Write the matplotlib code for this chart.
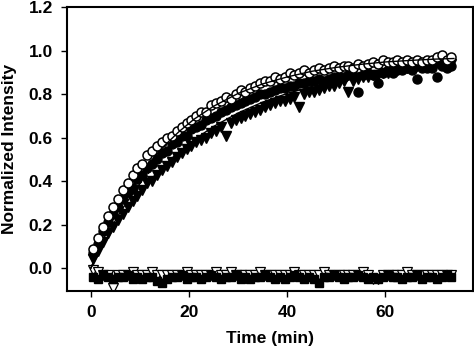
import matplotlib
matplotlib.use('Agg')
import matplotlib.pyplot as plt

plt.rcParams['font.family'] = ['Liberation Sans', 'DejaVu Sans']
plt.rcParams['font.weight'] = 'bold'

# sampling times (min), shared by all series
t = [0.5, 1.5, 2.5, 3.5, 4.5, 5.5, 6.5, 7.5, 8.5, 9.5,
     10.5, 11.5, 12.5, 13.5, 14.5, 15.5, 16.5, 17.5, 18.5, 19.5,
     20.5, 21.5, 22.5, 23.5, 24.5, 25.5, 26.5, 27.5, 28.5, 29.5,
     30.5, 31.5, 32.5, 33.5, 34.5, 35.5, 36.5, 37.5, 38.5, 39.5,
     40.5, 41.5, 42.5, 43.5, 44.5, 45.5, 46.5, 47.5, 48.5, 49.5,
     50.5, 51.5, 52.5, 53.5, 54.5, 55.5, 56.5, 57.5, 58.5, 59.5,
     60.5, 61.5, 62.5, 63.5, 64.5, 65.5, 66.5, 67.5, 68.5, 69.5,
     70.5, 71.5, 72.5, 73.5]

open_circ = [0.09, 0.14, 0.19, 0.24, 0.28, 0.32, 0.36, 0.39, 0.43, 0.46,
             0.48, 0.52, 0.54, 0.56, 0.58, 0.60, 0.61, 0.63, 0.65, 0.67,
             0.68, 0.70, 0.72, 0.72, 0.75, 0.76, 0.77, 0.79, 0.78, 0.80,
             0.82, 0.81, 0.83, 0.84, 0.85, 0.86, 0.86, 0.88, 0.87, 0.88,
             0.90, 0.89, 0.90, 0.91, 0.90, 0.91, 0.92, 0.91, 0.92, 0.93,
             0.92, 0.93, 0.93, 0.92, 0.94, 0.93, 0.94, 0.95, 0.94, 0.96,
             0.95, 0.95, 0.96, 0.95, 0.96, 0.95, 0.96, 0.95, 0.96, 0.96,
             0.97, 0.98, 0.96, 0.97]

filled_circ = [0.07, 0.11, 0.17, 0.21, 0.25, 0.28, 0.32, 0.35, 0.37, 0.41,
               0.43, 0.46, 0.48, 0.50, 0.53, 0.54, 0.57, 0.58, 0.61, 0.61,
               0.64, 0.65, 0.66, 0.68, 0.69, 0.70, 0.72, 0.73, 0.74, 0.75,
               0.76, 0.77, 0.78, 0.79, 0.80, 0.80, 0.81, 0.82, 0.83, 0.83,
               0.84, 0.84, 0.85, 0.85, 0.86, 0.86, 0.87, 0.86, 0.87, 0.88,
               0.88, 0.88, 0.89, 0.89, 0.81, 0.89, 0.90, 0.89, 0.85, 0.90,
               0.91, 0.90, 0.91, 0.91, 0.92, 0.91, 0.87, 0.92, 0.92, 0.92,
               0.88, 0.93, 0.92, 0.93]

filled_tri = [0.04, 0.08, 0.12, 0.16, 0.19, 0.22, 0.25, 0.28, 0.31, 0.33,
              0.36, 0.39, 0.40, 0.43, 0.45, 0.47, 0.49, 0.51, 0.53, 0.55,
              0.56, 0.58, 0.59, 0.60, 0.62, 0.63, 0.65, 0.61, 0.67, 0.68,
              0.69, 0.70, 0.71, 0.72, 0.73, 0.74, 0.75, 0.76, 0.77, 0.77,
              0.78, 0.79, 0.74, 0.80, 0.81, 0.81, 0.82, 0.83, 0.84, 0.84,
              0.85, 0.86, 0.81, 0.86, 0.87, 0.88, 0.88, 0.89, 0.89, 0.90,
              0.90, 0.91, 0.91, 0.92, 0.92, 0.93, 0.93, 0.93, 0.94, 0.94,
              0.95, 0.96, 0.95, 0.94]

base_sq = [-0.04, -0.05, -0.03, -0.04, -0.05, -0.04, -0.04, -0.03, -0.05, -0.04,
           -0.05, -0.04, -0.04, -0.06, -0.07, -0.05, -0.04, -0.04, -0.03, -0.05,
           -0.04, -0.04, -0.05, -0.04, -0.03, -0.04, -0.05, -0.04, -0.04, -0.03,
           -0.05, -0.04, -0.05, -0.04, -0.04, -0.03, -0.04, -0.05, -0.04, -0.05,
           -0.04, -0.03, -0.04, -0.05, -0.04, -0.05, -0.07, -0.04, -0.04, -0.03,
           -0.04, -0.05, -0.04, -0.04, -0.03, -0.04, -0.05, -0.04, -0.05, -0.04,
           -0.03, -0.04, -0.04, -0.05, -0.04, -0.04, -0.03, -0.05, -0.04, -0.04,
           -0.05, -0.04, -0.03, -0.04]

base_tri = [-0.01, -0.02, -0.03, -0.03, -0.09, -0.03, -0.03, -0.03, -0.02, -0.03,
            -0.03, -0.03, -0.02, -0.03, -0.03, -0.03, -0.03, -0.03, -0.03, -0.02,
            -0.03, -0.03, -0.03, -0.03, -0.03, -0.02, -0.03, -0.03, -0.02, -0.03,
            -0.03, -0.03, -0.03, -0.03, -0.02, -0.03, -0.03, -0.03, -0.03, -0.03,
            -0.03, -0.02, -0.03, -0.03, -0.03, -0.03, -0.03, -0.02, -0.03, -0.03,
            -0.03, -0.03, -0.03, -0.03, -0.03, -0.02, -0.03, -0.05, -0.05, -0.03,
            -0.03, -0.03, -0.03, -0.03, -0.02, -0.03, -0.03, -0.03, -0.03, -0.03,
            -0.03, -0.03, -0.03, -0.03]

# fitted curves
t_fit = [0, 1, 2, 3, 4, 6, 8, 10, 12, 15, 18, 21, 25, 30, 35, 40, 45, 50, 55, 60, 65, 70, 74]
fit_open = [0, 0.054, 0.106, 0.155, 0.200, 0.284, 0.360, 0.426, 0.486, 0.564, 0.629, 0.685,
            0.745, 0.804, 0.848, 0.880, 0.906, 0.924, 0.938, 0.949, 0.956, 0.962, 0.965]
fit_filled = [0, 0.049, 0.095, 0.139, 0.181, 0.257, 0.327, 0.389, 0.445, 0.519, 0.581, 0.636,
              0.695, 0.754, 0.800, 0.834, 0.861, 0.882, 0.898, 0.909, 0.919, 0.926, 0.931]
fit_tri = [0, 0.043, 0.083, 0.122, 0.159, 0.229, 0.293, 0.350, 0.403, 0.474, 0.537, 0.590,
           0.652, 0.714, 0.764, 0.804, 0.836, 0.861, 0.881, 0.898, 0.910, 0.921, 0.926]

fig = plt.figure(figsize=(4.74, 3.55), dpi=100)
ax = fig.add_axes([0.141, 0.18, 0.857, 0.799])

ax.plot(t, base_tri, 'v', markerfacecolor='white', markeredgecolor='k',
        markersize=6.5, markeredgewidth=0.9, linestyle='none')
ax.plot(t, base_sq, 's', color='k', markersize=6, linestyle='none')
ax.plot(t, filled_tri, 'v', color='k', markersize=7, linestyle='none')
ax.plot(t, filled_circ, 'o', color='k', markersize=6.5, linestyle='none')
ax.plot(t, open_circ, 'o', markerfacecolor='white', markeredgecolor='k',
        markersize=6.5, markeredgewidth=1.1, linestyle='none')

ax.plot(t_fit, fit_open, '-', color='k', lw=1.0)
ax.plot(t_fit, fit_filled, '--', color='k', lw=1.0)
ax.plot(t_fit, fit_tri, '-', color='k', lw=1.0)

ax.set_xlim(-4.9, 77.9)
ax.set_ylim(-0.106, 1.2)
ax.set_xticks([0, 20, 40, 60])
ax.set_yticks([0.0, 0.2, 0.4, 0.6, 0.8, 1.0, 1.2])
ax.set_yticklabels(['0.0', '0.2', '0.4', '0.6', '0.8', '1.0', '1.2'])
ax.tick_params(direction='out', length=4, width=1, labelsize=12.5, pad=6)
for sp in ax.spines.values():
    sp.set_linewidth(1.5)

ax.set_xlabel('Time (min)', fontsize=12.5, fontweight='bold', labelpad=8)
ax.set_ylabel('Normalized Intensity', fontsize=12.5, fontweight='bold', labelpad=8)

fig.savefig('out.png', dpi=100)
